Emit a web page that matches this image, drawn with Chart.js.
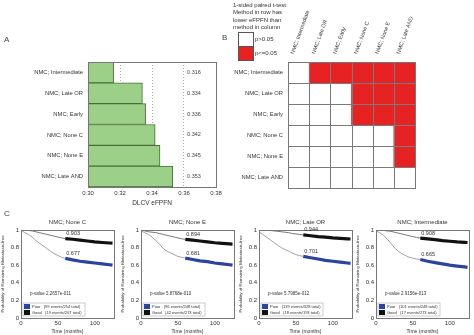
<!DOCTYPE html>
<html>
<head>
<meta charset="utf-8">
<script src="https://cdn.jsdelivr.net/npm/chart.js@4.4.1/dist/chart.umd.min.js"></script>
<style>
  body { margin: 0; background: #fff; width: 474px; height: 335px; overflow: hidden; position: relative; }
  canvas { position: absolute; }
</style>
</head>
<body>
<canvas id="notes" width="474" height="335" style="left:0;top:0"></canvas>
<canvas id="barA" width="235" height="207" style="left:0;top:0"></canvas>
<canvas id="matB" width="244" height="215" style="left:230px;top:0"></canvas>
<canvas id="km0" width="119" height="123" style="left:0;top:212px"></canvas>
<canvas id="km1" width="119" height="123" style="left:120px;top:212px"></canvas>
<canvas id="km2" width="119" height="123" style="left:238px;top:212px"></canvas>
<canvas id="km3" width="119" height="123" style="left:355px;top:212px"></canvas>

<script>
// Methods compared, in ranking order
const methods = ["NMC; Intermediate", "NMC; Late OR", "NMC; Early", "NMC; None C", "NMC; None E", "NMC; Late AND"];
const efpfn = [0.316, 0.334, 0.336, 0.342, 0.345, 0.353];
const efpfnTicks = [0.3, 0.32, 0.34, 0.36, 0.38];

// 1 = p<=0.05 that the row method has lower eFPFN than the column method
const sigMatrix = [
  [0, 1, 1, 1, 1, 1],
  [0, 0, 0, 1, 1, 1],
  [0, 0, 0, 1, 1, 1],
  [0, 0, 0, 0, 0, 1],
  [0, 0, 0, 0, 0, 1],
  [0, 0, 0, 0, 0, 0]
];
const keyLines = ["1-sided paired t-test:", "Method in row has", "lower eFPFN than", "method in column"];

// Kaplan-Meier curves, metastasis-free probability vs months
const months = [0, 5, 10, 15, 20, 25, 30, 35, 40, 45, 50, 55, 60, 70, 80, 90, 100, 110, 120, 124];
const timeTicks = [0, 50, 100];
const poorNoneC = [1.00, 0.97, 0.95, 0.92, 0.88, 0.85, 0.82, 0.79, 0.76, 0.73, 0.71, 0.69, 0.677, 0.66, 0.645, 0.635, 0.625, 0.615, 0.605, 0.600];
const goodNoneC = [1.00, 1.00, 0.995, 0.99, 0.98, 0.97, 0.96, 0.95, 0.94, 0.93, 0.92, 0.91, 0.903, 0.895, 0.885, 0.875, 0.865, 0.858, 0.852, 0.850];
const poorNoneE = [0.99, 0.97, 0.95, 0.92, 0.88, 0.84, 0.79, 0.76, 0.74, 0.72, 0.70, 0.69, 0.681, 0.665, 0.65, 0.64, 0.625, 0.615, 0.605, 0.600];
const goodNoneE = [1.00, 0.99, 0.98, 0.975, 0.97, 0.96, 0.95, 0.94, 0.93, 0.92, 0.91, 0.90, 0.894, 0.885, 0.875, 0.865, 0.855, 0.848, 0.842, 0.840];
const poorLateOR = [0.98, 0.95, 0.92, 0.89, 0.86, 0.83, 0.80, 0.78, 0.76, 0.74, 0.72, 0.71, 0.701, 0.685, 0.67, 0.655, 0.645, 0.635, 0.625, 0.620];
const goodLateOR = [1.00, 1.00, 1.00, 0.995, 0.99, 0.985, 0.98, 0.975, 0.97, 0.96, 0.955, 0.95, 0.944, 0.935, 0.925, 0.918, 0.91, 0.905, 0.90, 0.898];
const poorInter = [0.99, 0.97, 0.94, 0.90, 0.85, 0.80, 0.76, 0.73, 0.71, 0.69, 0.68, 0.67, 0.665, 0.645, 0.63, 0.615, 0.60, 0.59, 0.58, 0.575];
const goodInter = [1.00, 1.00, 0.995, 0.99, 0.985, 0.975, 0.965, 0.955, 0.945, 0.935, 0.925, 0.915, 0.908, 0.90, 0.89, 0.88, 0.872, 0.865, 0.86, 0.858];

const kmTitles = ["NMC; None C", "NMC; None E", "NMC; Late OR", "NMC; Intermediate"];
const kmPoor = [poorNoneC, poorNoneE, poorLateOR, poorInter];
const kmGood = [goodNoneC, goodNoneE, goodLateOR, goodInter];
const kmPValues = ["p-value 2.2657e-011", "p-value 5.8768e-010", "p-value 5.7985e-012", "p-value 2.9156e-013"];
const kmPoorText = ["Poor   (99 events/254 total)", "Poor   (96 events/248 total)", "Poor   (139 events/328 total)", "Poor   (101 events/248 total)"];
const kmGoodText = ["Good   (19 events/267 total)", "Good   (42 events/273 total)", "Good   (18 events/193 total)", "Good   (17 events/273 total)"];
const landmark = 60;

const FONT = "'Liberation Sans', sans-serif";
const RED = "#e62222";
Chart.defaults.font.family = FONT;
Chart.defaults.color = "#333";
Chart.defaults.animation = false;
Chart.defaults.responsive = false;
Chart.defaults.plugins.legend.display = false;
Chart.defaults.plugins.tooltip.enabled = false;

// panel letters and the t-test key
(function drawNotes() {
  const ctx = document.getElementById("notes").getContext("2d");
  ctx.fillStyle = "#444";
  ctx.textBaseline = "middle";
  ctx.font = "8px " + FONT;
  ctx.fillText("A", 4, 40);
  ctx.fillText("B", 222, 38);
  ctx.fillText("C", 4, 214);

  ctx.fillStyle = "#333";
  ctx.font = "6px " + FONT;
  keyLines.forEach((s, i) => ctx.fillText(s, 233, 5 + i * 7.5));
  ctx.strokeStyle = "#555";
  ctx.lineWidth = 1;
  ctx.fillStyle = "#fff";
  ctx.fillRect(238.5, 32.5, 15, 14);
  ctx.strokeRect(238.5, 32.5, 15, 14);
  ctx.fillStyle = RED;
  ctx.fillRect(238.5, 46.5, 15, 14);
  ctx.strokeRect(238.5, 46.5, 15, 14);
  ctx.fillStyle = "#333";
  ctx.fillText("p>0.05", 255, 39);
  ctx.fillText("p<=0.05", 255, 53);
})();

// box around the plotting area
const frame = {
  id: "frame",
  afterDraw(chart) {
    const { ctx, chartArea: a } = chart;
    ctx.save();
    ctx.strokeStyle = "#777";
    ctx.lineWidth = 1;
    ctx.strokeRect(Math.round(a.left) + 0.5, Math.round(a.top) + 0.5, Math.round(a.width), Math.round(a.height));
    ctx.restore();
  }
};

// --- A: eFPFN per method ---
new Chart(document.getElementById("barA"), {
  type: "bar",
  data: {
    labels: methods,
    datasets: [{
      data: efpfn,
      base: efpfnTicks[0],
      backgroundColor: "#9ccf88",
      borderColor: "#456f36",
      borderWidth: 1,
      barPercentage: 1,
      categoryPercentage: 1
    }]
  },
  options: {
    indexAxis: "y",
    layout: { padding: { top: 62, right: 19, left: 0, bottom: 0 } },
    scales: {
      x: {
        min: efpfnTicks[0], max: efpfnTicks[efpfnTicks.length - 1],
        afterBuildTicks: s => { s.ticks = efpfnTicks.map(v => ({ value: v })); },
        ticks: { font: { size: 6 }, padding: 3 },
        grid: { color: "#aaa", drawTicks: false },
        border: { display: false, dash: [1, 2] },
        title: { display: true, text: "DLCV eFPFN", font: { size: 6.5 }, padding: 0 },
        afterFit: s => { s.height = 20; }
      },
      y: {
        ticks: { font: { size: 5.8 }, padding: 5 },
        grid: { display: false, drawTicks: false },
        border: { display: false },
        afterFit: s => { s.width = 88; }
      }
    }
  },
  plugins: [frame, {
    id: "barValues",
    afterDatasetsDraw(chart) {
      const ctx = chart.ctx;
      ctx.save();
      ctx.font = "5.5px " + FONT;
      ctx.fillStyle = "#444";
      ctx.textAlign = "center";
      ctx.textBaseline = "middle";
      chart.getDatasetMeta(0).data.forEach((bar, i) => {
        ctx.fillText(efpfn[i].toFixed(3), 194, bar.y);
      });
      ctx.restore();
    }
  }]
});

// --- B: pairwise significance matrix ---
new Chart(document.getElementById("matB"), {
  type: "bar",
  data: {
    labels: methods,
    datasets: methods.map((row, r) => ({
      label: row,
      data: methods.map(() => 1),
      backgroundColor: sigMatrix[r].map(v => v ? RED : "#ffffff"),
      borderWidth: 0,
      barPercentage: 1,
      categoryPercentage: 1,
      stack: "m"
    }))
  },
  options: {
    layout: { padding: { top: 0, right: 59, left: 0, bottom: 27 } },
    scales: {
      x: {
        position: "top",
        stacked: true,
        ticks: { font: { size: 5.5 }, minRotation: 70, maxRotation: 70, autoSkip: false, padding: 7 },
        grid: { display: false, drawTicks: false },
        border: { display: false },
        afterFit: s => { s.height = 62; }
      },
      y: {
        stacked: true,
        reverse: true,
        min: 0, max: methods.length,
        afterBuildTicks: s => { s.ticks = methods.map((m, i) => ({ value: i + 0.5 })); },
        ticks: { font: { size: 5.8 }, padding: 5, callback: (v, i) => methods[i] },
        grid: { display: false, drawTicks: false },
        border: { display: false },
        afterFit: s => { s.width = 58; }
      }
    }
  },
  plugins: [frame, {
    id: "cellLines",
    afterDatasetsDraw(chart) {
      const { ctx, chartArea: a, scales: { x, y } } = chart;
      ctx.save();
      ctx.strokeStyle = "#7a7a7a";
      ctx.lineWidth = 1;
      for (let i = 1; i < methods.length; i++) {
        const py = Math.round(y.getPixelForValue(i)) + 0.5;
        ctx.beginPath();
        ctx.moveTo(a.left, py);
        ctx.lineTo(a.right, py);
        ctx.stroke();
        const px = Math.round(x.getPixelForValue(i - 0.5)) + 0.5;
        ctx.beginPath();
        ctx.moveTo(px, a.top);
        ctx.lineTo(px, a.bottom);
        ctx.stroke();
      }
      ctx.restore();
    }
  }]
});

// --- C: survival curves for the poor / good groups ---
function kmChart(id, k) {
  const pts = vals => months.map((t, i) => ({ x: t, y: vals[i] }));
  const styled = (thin, thick) => ({
    borderColor: c => c.p0.parsed.x >= landmark ? thick : thin,
    borderWidth: c => c.p0.parsed.x >= landmark ? 3.2 : 0.8
  });
  const li = months.indexOf(landmark);

  new Chart(document.getElementById(id), {
    type: "line",
    data: {
      datasets: [
        { data: pts(kmPoor[k]), borderColor: "#2c43a0", pointRadius: 0, segment: styled("#8a8a8a", "#2c43a0") },
        { data: pts(kmGood[k]), borderColor: "#111", pointRadius: 0, segment: styled("#555", "#111") }
      ]
    },
    options: {
      layout: { padding: { top: 18, right: 5, left: 0, bottom: 0 } },
      scales: {
        x: {
          type: "linear", min: 0, max: 126,
          afterBuildTicks: s => { s.ticks = timeTicks.map(v => ({ value: v })); },
          ticks: { font: { size: 6 }, padding: 2 },
          grid: { display: false, drawTicks: false },
          border: { display: false },
          title: { display: true, text: "Time (months)", font: { size: 5 }, padding: 0 },
          afterFit: s => { s.height = 17; }
        },
        y: {
          min: 0, max: 1,
          ticks: { stepSize: 0.2, font: { size: 6 }, padding: 2, callback: v => String(+v.toFixed(1)) },
          grid: { display: false, drawTicks: false },
          border: { display: false },
          title: { display: true, text: "Probability of Remaining Metastasis-free", font: { size: 4.3 }, padding: 0 },
          afterFit: s => { s.width = 21; }
        }
      }
    },
    plugins: [frame, {
      id: "kmText",
      afterDraw(chart) {
        const { ctx, chartArea: a, scales: { x, y } } = chart;
        ctx.save();
        ctx.fillStyle = "#333";
        ctx.textBaseline = "middle";
        // title
        ctx.font = "6px " + FONT;
        ctx.textAlign = "center";
        ctx.fillText(kmTitles[k], (a.left + a.right) / 2, a.top - 8);
        // survival at the landmark time
        ctx.font = "5.5px " + FONT;
        ctx.textAlign = "left";
        const lx = x.getPixelForValue(landmark) + 1;
        ctx.fillText(kmGood[k][li].toFixed(3), lx, y.getPixelForValue(kmGood[k][li]) - 5);
        ctx.fillText(kmPoor[k][li].toFixed(3), lx, y.getPixelForValue(kmPoor[k][li]) - 5);
        // p-value and group key
        ctx.font = "4.5px " + FONT;
        ctx.fillText(kmPValues[k], a.left + 9, a.bottom - 24);
        ctx.font = "4px " + FONT;
        ctx.strokeStyle = "#aaa";
        ctx.lineWidth = 0.6;
        ctx.strokeRect(a.left + 2, a.bottom - 15, 62, 13);
        ctx.fillStyle = "#2c43a0";
        ctx.fillRect(a.left + 3, a.bottom - 14, 6, 5);
        ctx.fillStyle = "#111";
        ctx.fillRect(a.left + 3, a.bottom - 8, 6, 5);
        ctx.fillStyle = "#333";
        ctx.fillText(kmPoorText[k], a.left + 11, a.bottom - 11.5);
        ctx.fillText(kmGoodText[k], a.left + 11, a.bottom - 5.5);
        ctx.restore();
      }
    }]
  });
}

kmTitles.forEach((t, k) => kmChart("km" + k, k));
</script>
</body>
</html>
